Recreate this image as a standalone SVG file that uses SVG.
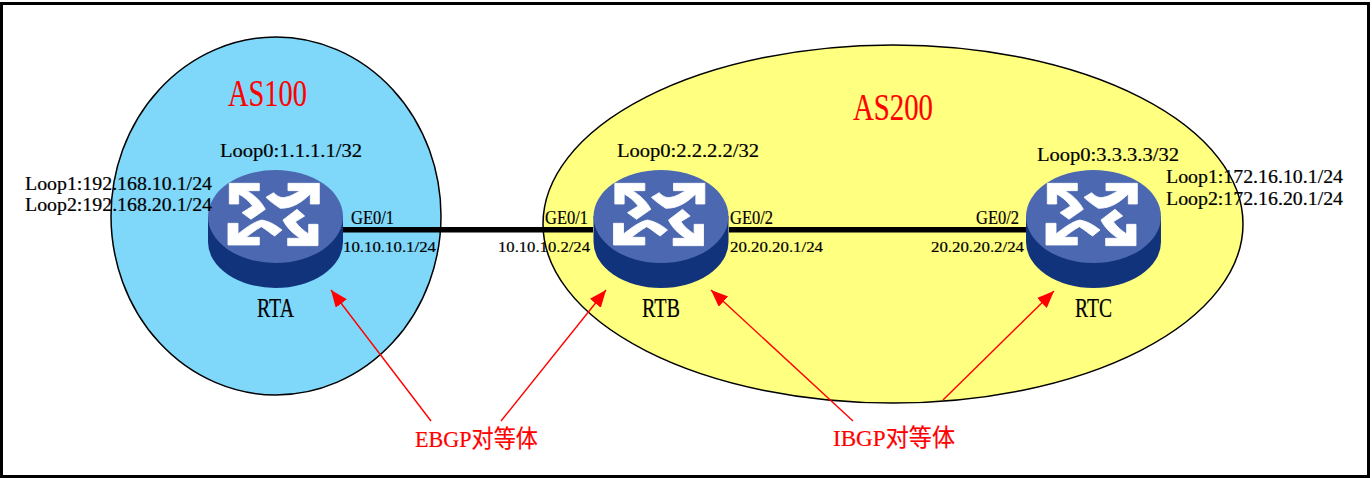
<svg xmlns="http://www.w3.org/2000/svg" width="1372" height="478" viewBox="0 0 1372 478">
<style>
text{font-family:"Liberation Serif","Noto Sans CJK SC",serif;fill:#000;stroke:#000;stroke-width:.2}
.l{font-size:18px}.s{font-size:15.500px}.n{font-size:27px}.as{font-size:38px;fill:#f00;stroke:#f00}.p{font-size:24px;fill:#f00;stroke:#f00}
.link{stroke:#000;stroke-width:5.500;fill:none}
.arr{stroke:#f00;stroke-width:1.400;fill:none;marker-end:url(#ah)}
.area{stroke:#000;stroke-width:1.500}
</style>
<defs>
<marker id="ah" markerUnits="userSpaceOnUse" markerWidth="20" markerHeight="16" refX="17" refY="7" orient="auto"><path d="M0 0L17 7L0 14z" fill="#f00"/></marker>
<g id="router">
<path d="M208 216V242A67.500 46 0 0 0 343 242V216z" fill="#10337c"/>
<ellipse cx="275.500" cy="216.500" rx="67.500" ry="46.500" fill="#4c68b0"/>
<g transform="translate(202 160) scale(.3333)" fill="#fff" stroke="#fff" stroke-width="2.500">
<path d="M82 70H172V92H135C155 105 175 120 190 148L147 178L120 158L152 138C140 122 125 110 110 102V132H82z"/>
<path d="M352 70V132H325V102C300 125 275 145 235 145C220 135 205 125 192 112L215 98C225 108 235 115 250 112C265 110 280 100 295 92H258V70z"/>
<path d="M78 190V255H172V232H132C145 222 160 210 178 200C195 210 205 220 218 228L240 210C220 195 205 185 180 180C155 185 130 205 108 222V190z"/>
<path d="M348 193V257H257V235H295C275 222 255 205 243 180L285 148L308 168L280 185C290 200 305 212 320 222V193z"/>
</g>
</g>
</defs>
<rect x="1.500" y="3.500" width="1367" height="473" fill="#fff" stroke="#000" stroke-width="3"/>
<g id="as100"><ellipse class="area" cx="276" cy="216" rx="165" ry="179" fill="#7fd7fa"/><text class="as" x="228" y="106" textLength="79" lengthAdjust="spacingAndGlyphs">AS100</text></g>
<g id="as200"><ellipse class="area" cx="893" cy="224" rx="350" ry="179" fill="#ffff80"/><text class="as" x="853" y="120" textLength="80" lengthAdjust="spacingAndGlyphs">AS200</text></g>
<g id="connectors">
<path class="link" d="M343 229.700H593M729 229.700H1026"/>
<path class="arr" d="M431 421L331 290"/>
<path class="arr" d="M501 421L606 290"/>
<path class="arr" d="M853 421L711 290"/>
<path class="arr" d="M943 400L1054 291"/>
</g>
<g id="RTA"><use href="#router"/>
<text class="n" x="257" y="317" textLength="37" lengthAdjust="spacingAndGlyphs">RTA</text>
<text class="l" x="220" y="157" textLength="142" lengthAdjust="spacingAndGlyphs">Loop0:1.1.1.1/32</text>
<text class="l" x="25" y="190" textLength="187" lengthAdjust="spacingAndGlyphs">Loop1:192.168.10.1/24</text>
<text class="l" x="25" y="211" textLength="187" lengthAdjust="spacingAndGlyphs">Loop2:192.168.20.1/24</text>
<text class="l" x="351" y="224" textLength="43" lengthAdjust="spacingAndGlyphs">GE0/1</text>
<text class="s" x="343" y="252" textLength="93" lengthAdjust="spacingAndGlyphs">10.10.10.1/24</text>
</g>
<g id="RTB"><use href="#router" x="385.500"/>
<text class="n" x="642" y="317" textLength="38" lengthAdjust="spacingAndGlyphs">RTB</text>
<text class="l" x="617" y="157" textLength="142" lengthAdjust="spacingAndGlyphs">Loop0:2.2.2.2/32</text>
<text class="l" x="545" y="224" textLength="43" lengthAdjust="spacingAndGlyphs">GE0/1</text>
<text class="l" x="730" y="224" textLength="43" lengthAdjust="spacingAndGlyphs">GE0/2</text>
<text class="s" x="498" y="252" textLength="92" lengthAdjust="spacingAndGlyphs">10.10.10.2/24</text>
<text class="s" x="730" y="252" textLength="93" lengthAdjust="spacingAndGlyphs">20.20.20.1/24</text>
</g>
<g id="RTC"><use href="#router" x="818"/>
<text class="n" x="1075" y="317" textLength="37" lengthAdjust="spacingAndGlyphs">RTC</text>
<text class="l" x="1037" y="161" textLength="142" lengthAdjust="spacingAndGlyphs">Loop0:3.3.3.3/32</text>
<text class="l" x="1166" y="183" textLength="177" lengthAdjust="spacingAndGlyphs">Loop1:172.16.10.1/24</text>
<text class="l" x="1166" y="205" textLength="177" lengthAdjust="spacingAndGlyphs">Loop2:172.16.20.1/24</text>
<text class="l" x="976" y="224" textLength="43" lengthAdjust="spacingAndGlyphs">GE0/2</text>
<text class="s" x="931" y="252" textLength="93" lengthAdjust="spacingAndGlyphs">20.20.20.2/24</text>
</g>
<g id="ebgp"><text class="p" x="415" y="447" textLength="123" lengthAdjust="spacingAndGlyphs">EBGP对等体</text></g>
<g id="ibgp"><text class="p" x="833" y="446" textLength="122" lengthAdjust="spacingAndGlyphs">IBGP对等体</text></g>
</svg>
